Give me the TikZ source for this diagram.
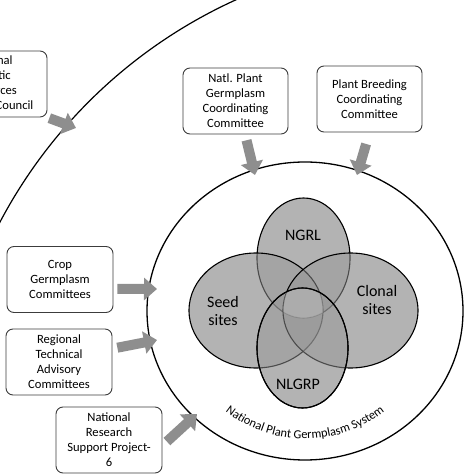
\documentclass[tikz,border=0pt]{standalone}
\usepackage{fontspec}
\setmainfont{Carlito}
\usepackage{tikz}
\usetikzlibrary{positioning,shapes.geometric,arrows.meta,decorations.text}
\definecolor{boxline}{RGB}{60,60,60}
\definecolor{feedgray}{RGB}{142,142,142}
\definecolor{vennbase}{RGB}{210,210,210}
\definecolor{venngray}{RGB}{150,150,150}
\newcommand{\boxfont}{\fontsize{12.6}{15}\selectfont}
\newcommand{\vennfont}{\fontsize{16}{18}\selectfont}
\newcommand{\ringfont}{\fontsize{12.4}{14}\selectfont}

\begin{document}
\begin{tikzpicture}[x=1pt, y=1pt, >=Stealth]
  % Styles for the committees, the feed arrows and the sets
  \tikzset{
    committee/.style={rectangle, draw=boxline, fill=white, line width=0.9pt, rounded corners=7pt, minimum width=105pt, minimum height=66pt, inner sep=2pt, align=center, font=\boxfont},
    feed/.style={draw=feedgray, line width=10pt, -{Triangle[length=13pt, width=22pt]}},
    venn/.style={ellipse, draw=black, line width=1.1pt, fill=venngray, fill opacity=0.5, inner sep=0pt, outer sep=0pt},
    vennlabel/.style={align=center, font=\vennfont}
  }

  \useasboundingbox (0,0) rectangle (474,474);
  \clip (0,0) rectangle (474,474);

  % Outer arc of the wider system
  \coordinate (arccenter) at (443,18);
  \draw[line width=1.2pt] (arccenter) ++(113.5:501) arc[start angle=113.5, end angle=153, radius=501];

  % National Plant Germplasm System
  \node[ellipse, draw=black, line width=1.3pt, minimum width=316pt, minimum height=298pt, inner sep=0pt] (sys) at (305,163) {};
  \path[decorate, decoration={text along path, text align=center, text={|\ringfont|National Plant Germplasm System}}]
    (sys.center) ++(-133:128) arc[start angle=-133, end angle=-47, radius=128];

  % Four overlapping sets
  \fill[vennbase] (303.5,216) ellipse [x radius=46.5, y radius=60];
  \fill[vennbase] (256,163.5) ellipse [x radius=67, y radius=57.5];
  \fill[vennbase] (350.5,163.5) ellipse [x radius=67.5, y radius=57.5];
  \fill[vennbase] (302.5,126) ellipse [x radius=45.5, y radius=60];
  \node[venn, minimum width=93pt, minimum height=120pt] (ngrl) at (303.5,216) {};
  \node[venn, minimum width=134pt, minimum height=115pt] (seed) at (256,163.5) {};
  \node[venn, minimum width=135pt, minimum height=115pt] (clonal) at (350.5,163.5) {};
  \node[venn, minimum width=91pt, minimum height=120pt] (nlgrp) at (302.5,126) {};
  % lighter core where all four meet
  \begin{scope}
    \clip (303.5,216) ellipse [x radius=46.5, y radius=60];
    \clip (256,163.5) ellipse [x radius=67, y radius=57.5];
    \clip (350.5,163.5) ellipse [x radius=67.5, y radius=57.5];
    \clip (302.5,126) ellipse [x radius=45.5, y radius=60];
    \fill[white, opacity=0.2] (240,100) rectangle (370,230);
  \end{scope}
  \draw[line width=1.1pt] (302.5,126) ellipse [x radius=45.5, y radius=60];
  \node[vennlabel] (ngrllabel) at (303,239) {NGRL};
  \node[vennlabel] (seedlabel) at (223,163) {Seed\\sites};
  \node[vennlabel] (clonallabel) at (377,174) {Clonal\\sites};
  \node[vennlabel] (nlgrplabel) at (298,90) {NLGRP};

  % Committees round the system
  \node[committee, minimum width=112pt] (council) at (-9,390) {National\\Genetic\\Resources\\Advisory Council};
  \node[committee] (natl) at (235.5,373) {Natl. Plant\\Germplasm\\Coordinating\\Committee};
  \node[committee] (breed) at (369.5,375) {Plant Breeding\\Coordinating\\Committee};
  \node[committee, minimum width=106pt] (crop) at (60,194.5) {Crop\\Germplasm\\Committees};
  \node[committee, minimum width=106pt] (regional) at (59,112) {Regional\\Technical\\Advisory\\Committees};
  \node[committee, minimum width=106pt] (nrsp) at (109,34) {National\\Research\\Support Project-\\6};

  % Arrow tips on the rings
  \coordinate (tipcouncil) at (76,346);
  \coordinate (tipnatl) at (255,299);
  \coordinate (tipbreed) at (357,299);
  \coordinate (tipcrop) at (157,185);
  \coordinate (tipregional) at (157,134);
  \coordinate (tipnrsp) at (197,60);

  % Feed arrows
  \draw[feed, shorten <=2pt] (council.south east) -- (tipcouncil);
  \draw[feed, shorten <=6pt] (natl.-74) -- (tipnatl);
  \draw[feed, shorten <=12pt] (breed.south) -- (tipbreed);
  \draw[feed, shorten <=4pt] (crop.-10) -- (tipcrop);
  \draw[feed, shorten <=5pt] (regional.14) -- (tipregional);
  \draw[feed, shorten <=6pt] (nrsp.-6) -- (tipnrsp);
\end{tikzpicture}
\end{document}
